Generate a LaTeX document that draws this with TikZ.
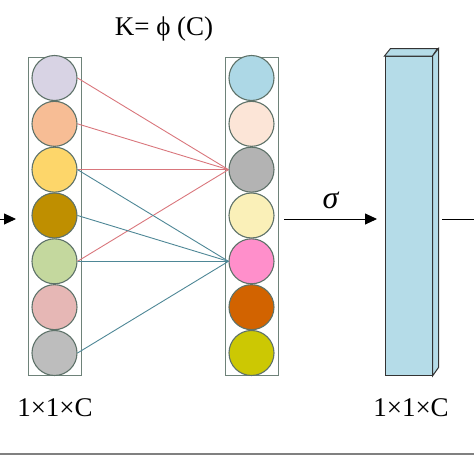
\documentclass[tikz,border=0pt]{standalone}
\usepackage{fontspec}
\setmainfont{Liberation Serif}
\usetikzlibrary{arrows.meta}
\definecolor{rimc}{HTML}{5E7269}
\definecolor{boxc}{HTML}{6E8279}
\definecolor{redl}{HTML}{D9767C}
\definecolor{bluel}{HTML}{4E8796}
\definecolor{barc}{HTML}{B5DCE8}
\definecolor{lA}{HTML}{D8D3E4}
\definecolor{lB}{HTML}{F7BD95}
\definecolor{lC}{HTML}{FDD66A}
\definecolor{lD}{HTML}{BF8F00}
\definecolor{lE}{HTML}{C4D89E}
\definecolor{lF}{HTML}{E6B7B5}
\definecolor{lG}{HTML}{BDBDBD}
\definecolor{mA}{HTML}{ADD8E6}
\definecolor{mB}{HTML}{FCE5D7}
\definecolor{mC}{HTML}{B3B3B3}
\definecolor{mD}{HTML}{FAF0B8}
\definecolor{mE}{HTML}{FF8FCB}
\definecolor{mF}{HTML}{D26300}
\definecolor{mG}{HTML}{CCC803}
\begin{document}
\begin{tikzpicture}[x=1pt,y=-1pt,
  ball/.style={circle,draw=rimc,line width=1.1pt,minimum size=45pt,inner sep=0pt},
  colbox/.style={rectangle,draw=boxc,line width=1pt,minimum width=53pt,minimum height=318.5pt,inner sep=0pt},
  redlink/.style={draw=redl,line width=0.9pt},
  bluelink/.style={draw=bluel,line width=0.9pt},
  flow/.style={line width=0.9pt,-{Triangle[length=12pt,width=11pt]}},
  lbl/.style={font=\fontsize{27}{30}\selectfont,inner sep=0pt}]
\useasboundingbox (0,0) rectangle (474,474);
% columns
\node[colbox] (colL) at (54.75,216.25) {};
\node[colbox] (colM) at (251.75,216.25) {};
% left circles
\foreach \c [count=\i from 0] in {lA,lB,lC,lD,lE,lF,lG}{
  \node[ball,fill=\c] (L\i) at (54.5,78+45.83*\i) {};
}
\foreach \c [count=\i from 0] in {mA,mB,mC,mD,mE,mF,mG}{
  \node[ball,fill=\c] (M\i) at (251.5,78+45.83*\i) {};
}
% links
\foreach \i in {0,1,2,4}{\draw[redlink] (L\i.east) -- (M2.west);}
\foreach \i in {2,3,4,6}{\draw[bluelink] (L\i.east) -- (M4.west);}
% bar
\node[rectangle,draw=black!80,line width=1pt,fill=barc,minimum width=47pt,minimum height=319pt,inner sep=0pt] (bar) at (408.5,216) {};
\draw[draw=black!80,line width=1pt,fill=barc] (bar.north west) -- ++(6,-7.5) -- ++(47,0) -- (bar.north east) -- cycle;
\draw[draw=black!80,line width=1pt,fill=barc] (bar.north east) -- ++(6,-7.5) -- ++(0,319) -- (bar.south east) -- cycle;
% arrows
\coordinate (inL) at (0,219);
\coordinate (inTip) at (16,219);
\draw[flow] (inL) -- (inTip);
\coordinate (sA) at (284,219);
\coordinate (sB) at (377,219);
\draw[flow] (sA) -- node[above=10pt,font=\fontsize{32}{34}\selectfont\itshape,inner sep=0pt] (sig) {σ} (sB);
\coordinate (oA) at (442,219);
\coordinate (oB) at (474,219);
\draw[line width=0.9pt] (oA) -- (oB);
% labels
\node[lbl] (klab) at (164,29) {K= ϕ (C)};
\node[lbl] (dimL) at (55,408) {1×1×C};
\node[lbl] (dimR) at (411,408) {1×1×C};
% bottom rule
\coordinate (rL) at (0,454);
\coordinate (rR) at (474,454);
\draw[gray,line width=1.2pt] (rL) -- (rR);
\end{tikzpicture}
\end{document}
